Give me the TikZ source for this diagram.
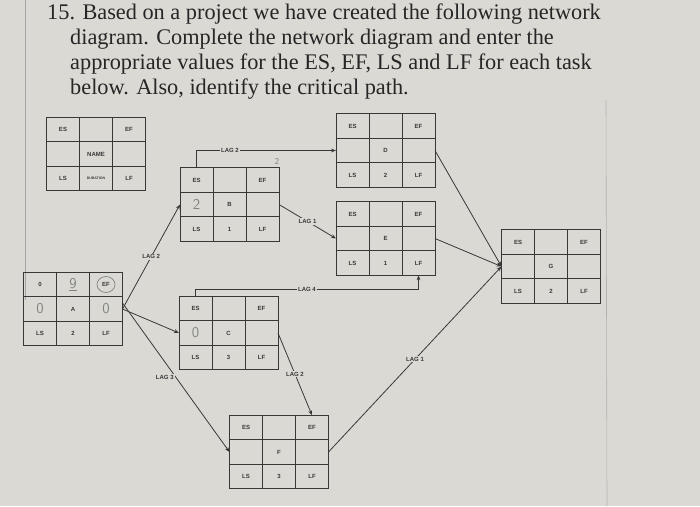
\documentclass[tikz,border=0pt]{standalone}
\usepackage{fontspec}
\setmainfont{Liberation Serif}
\newfontfamily\cellfont{Liberation Sans}
\usetikzlibrary{arrows.meta}
\definecolor{paper}{rgb}{0.86,0.85,0.83}
\definecolor{ink}{rgb}{0.22,0.22,0.22}
\definecolor{pencil}{rgb}{0.5,0.52,0.5}
\tikzset{
  boxframe/.style={draw=ink,line width=0.9pt,minimum width=99pt,minimum height=73.5pt,inner sep=0pt,outer sep=0pt},
  celltext/.style={inner sep=0pt,font=\cellfont\bfseries\fontsize{6}{7}\selectfont,text=ink},
  hw/.style={inner sep=0pt,font=\sffamily\fontsize{15}{15}\selectfont,text=pencil},
  arr/.style={draw=ink,line width=0.8pt,-{Stealth[length=5pt]}},
  lag/.style={fill=paper,inner sep=1pt,font=\cellfont\bfseries\fontsize{6}{7}\selectfont,text=ink},
  title/.style={anchor=base west,font=\fontsize{22.3}{26}\selectfont,text=black!85,inner sep=0pt}
}
% box: name, x, y (centre)
\newcommand\netbox[3]{%
  \node[boxframe] (#1) at (#2,#3) {};
  \draw[ink,line width=0.9pt] (#2-16.5,#3-36.75) -- (#2-16.5,#3+36.75)
     (#2+16.5,#3-36.75) -- (#2+16.5,#3+36.75)
     (#2-49.5,#3-12.25) -- (#2+49.5,#3-12.25)
     (#2-49.5,#3+12.25) -- (#2+49.5,#3+12.25);
  \foreach \r in {1,2,3}{\foreach \c in {1,2,3}{
    \coordinate (#1-\r-\c) at (#2-66+33*\c,#3-49+24.5*\r);}}%
}
% cell text: box, row, col, style, text
\newcommand\cel[5]{\node[#4] (#1-#2-#3-t) at (#1-#2-#3) {#5};}
\newcommand\std[4]{%
  \cel{#1}{1}{1}{celltext}{ES}\cel{#1}{1}{3}{celltext}{EF}
  \cel{#1}{2}{2}{celltext}{#3}
  \cel{#1}{3}{1}{celltext}{LS}\cel{#1}{3}{2}{celltext}{#4}\cel{#1}{3}{3}{celltext}{LF}}
\begin{document}
\begin{tikzpicture}[x=1pt,y=-1pt]
\fill[paper] (0,0) rectangle (700,506);
\useasboundingbox (0,0) rectangle (700,506);
\draw[black!35,line width=0.6pt] (25,0) -- (25,300);
\draw[black!30,line width=0.6pt] (606,100) -- (607,506);
\node[title] (t1) at (47,19) {15. Based on a project we have created the following network};
\node[title] (t2) at (70,44) {diagram.  Complete the network diagram and enter the};
\node[title] (t3) at (70,69) {appropriate values for the ES, EF, LS and LF for each task};
\node[title] (t4) at (70,94) {below.  Also, identify the critical path.};

\netbox{L}{96}{154}
\std{L}{}{NAME}{}
\node[celltext,font=\cellfont\bfseries\fontsize{3.5}{4}\selectfont] (L-dur) at (L-3-2) {DURATION};

\netbox{A}{73}{309}
\cel{A}{1}{1}{celltext}{0}\cel{A}{1}{2}{hw}{\underline{9}}\cel{A}{1}{3}{celltext}{EF}
\cel{A}{2}{1}{hw}{0}\cel{A}{2}{2}{celltext}{A}\cel{A}{2}{3}{hw}{0}
\cel{A}{3}{1}{celltext}{LS}\cel{A}{3}{2}{celltext}{2}\cel{A}{3}{3}{celltext}{LF}
\draw[pencil,line width=0.7pt] (A-1-3) ellipse (9pt and 8pt);

\netbox{B}{229.5}{204.5}\std{B}{}{B}{1}\cel{B}{2}{1}{hw}{2}
\node[hw,font=\sffamily\fontsize{9}{9}\selectfont] (b2) at (277,161) {2};
\netbox{C}{228.5}{333}\std{C}{}{C}{3}\cel{C}{2}{1}{hw}{0}
\netbox{D}{385.5}{150.5}\std{D}{}{D}{2}
\netbox{E}{385.5}{238.5}\std{E}{}{E}{1}
\netbox{F}{279}{452}\std{F}{}{F}{3}
\netbox{G}{551}{266.5}\std{G}{}{G}{2}

\draw[arr] (B-1-1 |- B.north) |- (D.west) node[lag,pos=0.62] {LAG 2};
\draw[arr] (B.east) -- node[lag] {LAG 1} (E.west);
\draw[arr] (A.east) -- node[lag] {LAG 2} (B.west);
\draw[arr] (A.east) -- (C.west);
\draw[arr] ([yshift=6pt]A.east) -- node[lag,pos=0.5,left=1pt] {LAG 3} (F.west);
\draw[arr] (C-1-1 |- C.north) -- ++(0,-7) -| node[lag,pos=0.25] {LAG 4} (E-3-3 |- E.south);
\draw[arr] (C.east) -- node[lag] {LAG 2} (F-1-3 |- F.north);
\draw[arr] (F.east) -- node[lag] {LAG 1} (G.west);
\draw[arr] (D.east) -- (G.west);
\draw[arr] (E.east) -- (G.west);
\end{tikzpicture}
\end{document}
